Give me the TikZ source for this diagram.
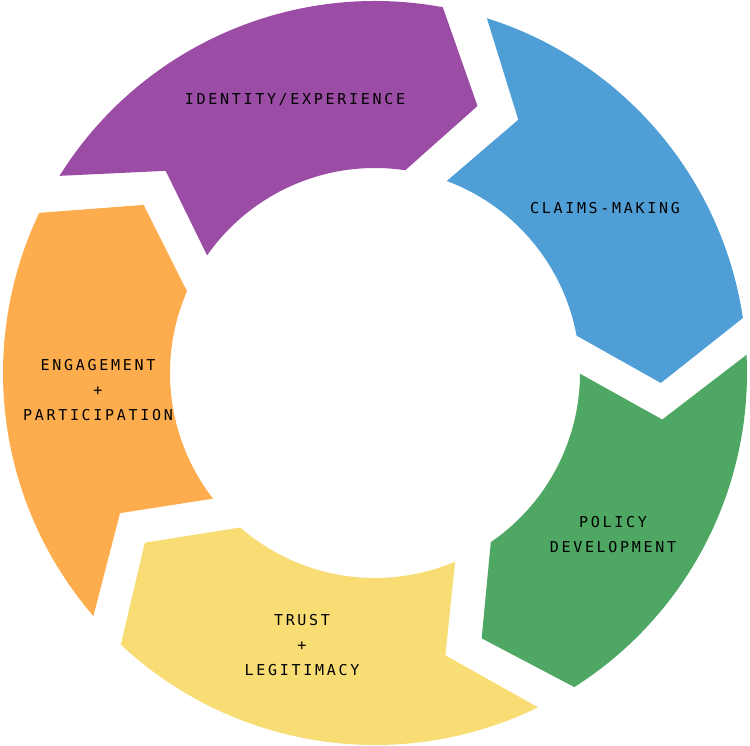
\documentclass[tikz,border=0pt]{standalone}
\usepackage{fontspec}
\newfontfamily\lab[LetterSpace=18]{DejaVu Sans Mono}
\definecolor{cpur}{HTML}{9B4DA6}
\definecolor{cblu}{HTML}{4F9FD6}
\definecolor{cgrn}{HTML}{4EA763}
\definecolor{cyel}{HTML}{F8DC74}
\definecolor{cora}{HTML}{FDAD4E}
\tikzset{lbl/.style={font=\lab\fontsize{15}{25}\selectfont, align=center, text=black}}
\newcommand{\seg}[3]{% T, L, colour
  \fill[#3] (375,373) ++(#1:372) arc[start angle=#1, end angle=#2, radius=372]
    -- ($(375,373)+(#2-10.5:286)$) -- ($(375,373)+(#2+2:205)$)
    arc[start angle=#2+2, end angle=#1-3, radius=205]
    -- ($(375,373)+(#1-12:291)$) -- cycle;}
\usetikzlibrary{calc}
\begin{document}
\begin{tikzpicture}[x=1pt,y=1pt]
\useasboundingbox (0,0) rectangle (750,746);
\seg{148}{79.5}{cpur}
\seg{72.5}{8.5}{cblu}
\seg{2.8}{-57.6}{cgrn}
\seg{-64}{-133.1}{cyel}
\seg{-139.2}{-205.5}{cora}
\node[lbl] (id) at (295,646) {IDENTITY/EXPERIENCE};
\node[lbl] (cm) at (605,538) {CLAIMS-MAKING};
\node[lbl] (pd) at (613,211) {POLICY\\DEVELOPMENT};
\node[lbl] (tl) at (302,101) {TRUST\\+\\LEGITIMACY};
\node[lbl] (ep) at (98,356) {ENGAGEMENT\\+\\PARTICIPATION};
\end{tikzpicture}
\end{document}
